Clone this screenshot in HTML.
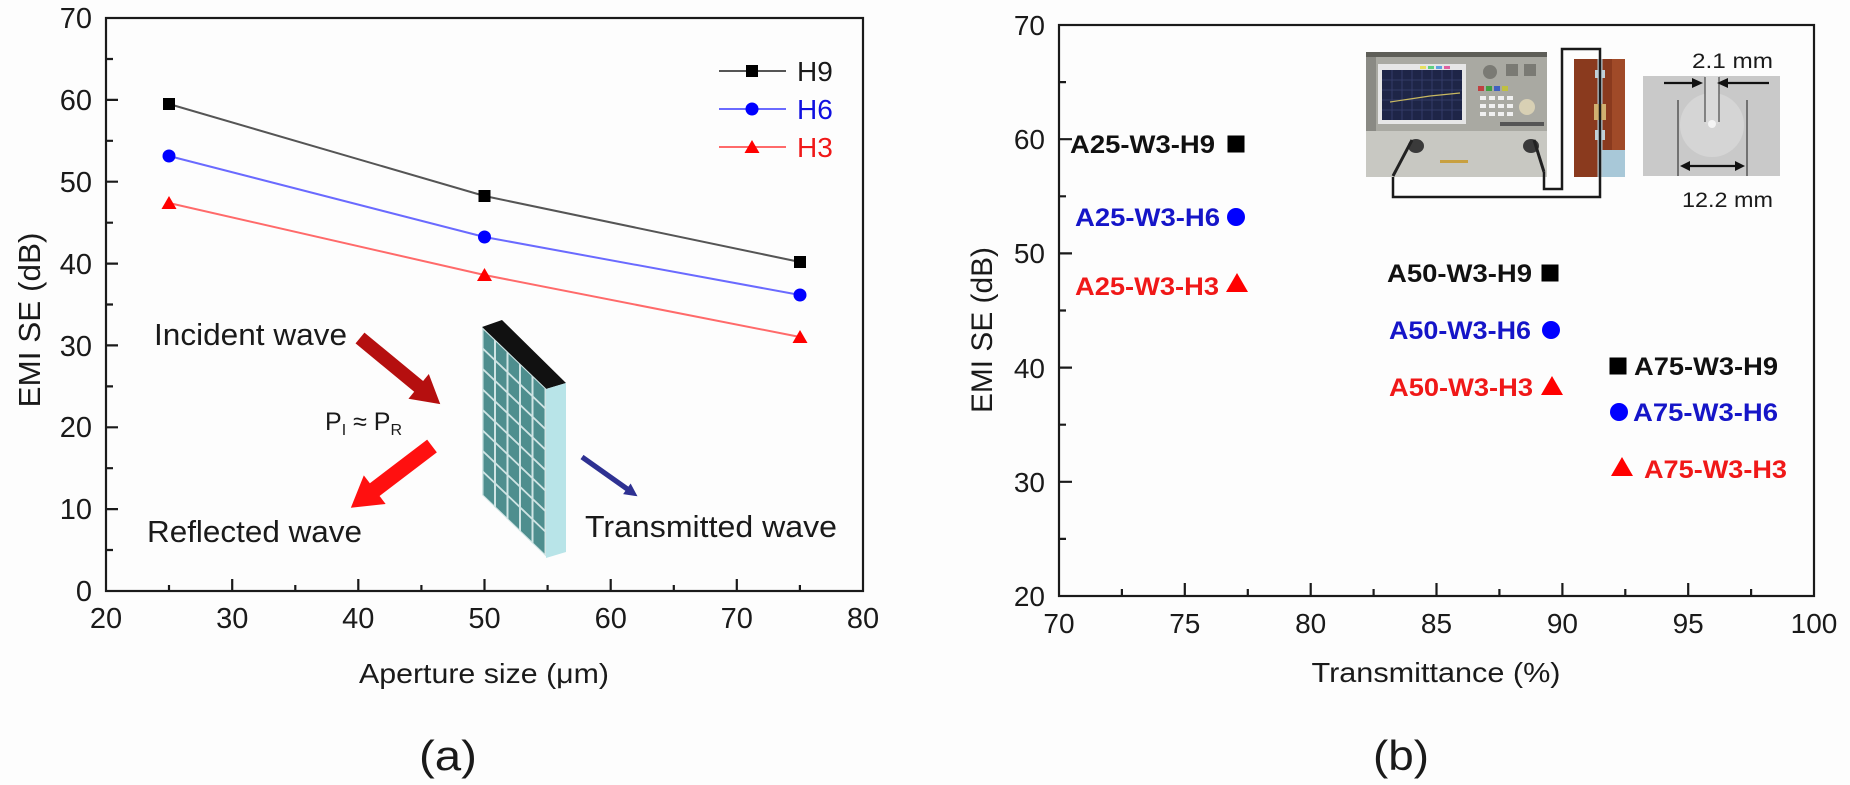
<!DOCTYPE html>
<html>
<head>
<meta charset="utf-8">
<style>
  html,body{margin:0;padding:0;background:#fdfdfd;}
  svg{display:block;}
  text{font-family:"Liberation Sans",Arial,sans-serif;}
</style>
</head>
<body>
<svg width="1850" height="785" viewBox="0 0 1850 785" xmlns="http://www.w3.org/2000/svg">
  <rect x="0" y="0" width="1850" height="785" fill="#fdfdfd"/>

  <!-- ================= LEFT PLOT (a) ================= -->
  <g stroke="#1a1a1a" stroke-width="2.2" fill="none">
    <rect x="106" y="18" width="757" height="573"/>
    <!-- y major ticks -->
    <path d="M106 509.1h12 M106 427.3h12 M106 345.4h12 M106 263.6h12 M106 181.7h12 M106 99.9h12"/>
    <!-- y minor ticks -->
    <path d="M106 550h7 M106 468.2h7 M106 386.4h7 M106 304.5h7 M106 222.7h7 M106 140.8h7 M106 59h7"/>
    <!-- x major ticks -->
    <path d="M232.2 591v-12 M358.3 591v-12 M484.5 591v-12 M610.7 591v-12 M736.8 591v-12"/>
    <!-- x minor ticks -->
    <path d="M169 591v-6 M295.3 591v-6 M421.4 591v-6 M547.6 591v-6 M673.8 591v-6 M799.9 591v-6"/>
  </g>
  <g font-size="29" fill="#1a1a1a" text-anchor="end">
    <text x="92" y="28">70</text>
    <text x="92" y="110">60</text>
    <text x="92" y="192">50</text>
    <text x="92" y="274">40</text>
    <text x="92" y="356">30</text>
    <text x="92" y="437">20</text>
    <text x="92" y="519">10</text>
    <text x="92" y="601">0</text>
  </g>
  <g font-size="29" fill="#1a1a1a" text-anchor="middle">
    <text x="106" y="628">20</text>
    <text x="232.2" y="628">30</text>
    <text x="358.3" y="628">40</text>
    <text x="484.5" y="628">50</text>
    <text x="610.7" y="628">60</text>
    <text x="736.8" y="628">70</text>
    <text x="863" y="628">80</text>
  </g>
  <text x="484" y="683" font-size="28" fill="#1a1a1a" text-anchor="middle" textLength="250" lengthAdjust="spacingAndGlyphs">Aperture size (μm)</text>
  <text transform="translate(40,320) rotate(-90)" font-size="31" fill="#1a1a1a" text-anchor="middle" textLength="175" lengthAdjust="spacingAndGlyphs">EMI SE (dB)</text>
  <text x="448" y="770" font-size="42" fill="#1a1a1a" text-anchor="middle" textLength="58" lengthAdjust="spacingAndGlyphs">(a)</text>

  <!-- series lines -->
  <polyline points="169,104 484.5,196 800,262" fill="none" stroke="#555" stroke-width="2"/>
  <polyline points="169,156 484.5,237 800,295" fill="none" stroke="#6a6aff" stroke-width="2"/>
  <polyline points="169,203 484.5,275 800,337" fill="none" stroke="#ff6a6a" stroke-width="2"/>
  <!-- markers -->
  <g fill="#000">
    <rect x="163" y="98" width="12" height="12"/>
    <rect x="478.5" y="190" width="12" height="12"/>
    <rect x="794" y="256" width="12" height="12"/>
  </g>
  <g fill="#0000ff">
    <circle cx="169" cy="156" r="6.5"/>
    <circle cx="484.5" cy="237" r="6.5"/>
    <circle cx="800" cy="295" r="6.5"/>
  </g>
  <g fill="#ff0000">
    <polygon points="169,196 176.5,209 161.5,209"/>
    <polygon points="484.5,268 492,281 477,281"/>
    <polygon points="800,330 807.5,343 792.5,343"/>
  </g>

  <!-- legend -->
  <line x1="719" y1="71" x2="786" y2="71" stroke="#555" stroke-width="2"/>
  <rect x="746" y="65" width="12" height="12" fill="#000"/>
  <line x1="719" y1="109" x2="786" y2="109" stroke="#6a6aff" stroke-width="2"/>
  <circle cx="752" cy="109" r="6.5" fill="#0000ff"/>
  <line x1="719" y1="147" x2="786" y2="147" stroke="#ff6a6a" stroke-width="2"/>
  <polygon points="752,140 759.5,153 744.5,153" fill="#ff0000"/>
  <text x="797" y="81" font-size="28" fill="#1a1a1a">H9</text>
  <text x="797" y="119" font-size="28" fill="#1010e0">H6</text>
  <text x="797" y="157" font-size="28" fill="#f01818">H3</text>

  <!-- illustration -->
  <text x="154" y="345" font-size="31" fill="#1a1a1a" textLength="193" lengthAdjust="spacingAndGlyphs">Incident wave</text>
  <text x="147" y="542" font-size="31" fill="#1a1a1a" textLength="215" lengthAdjust="spacingAndGlyphs">Reflected wave</text>
  <text x="585" y="537" font-size="31" fill="#1a1a1a" textLength="252" lengthAdjust="spacingAndGlyphs">Transmitted wave</text>
  <text x="325" y="430" font-size="25" fill="#1a1a1a">P<tspan font-size="16" dy="5">I</tspan><tspan dy="-5"> ≈ P</tspan><tspan font-size="16" dy="5">R</tspan></text>

  <!-- incident arrow -->
  <g transform="translate(360,338) rotate(39.5)">
    <polygon points="0,-7 76,-7 76,-16 104,0 76,16 76,7 0,7" fill="#b50f0f"/>
  </g>
  <!-- reflected arrow -->
  <g transform="translate(432,446) rotate(142.7)">
    <polygon points="0,-8 72,-8 72,-18 102,0 72,18 72,8 0,8" fill="#ff1010"/>
  </g>
  <!-- transmitted arrow -->
  <g transform="translate(582,457) rotate(35.3)">
    <polygon points="0,-2.6 55,-2.6 55,-6.5 68,0 55,6.5 55,2.6 0,2.6" fill="#2e3192"/>
  </g>

  <!-- mesh panel -->
  <polygon points="482,327 502,320 566,383 546,389" fill="#111"/>
  <polygon points="546,389 566,383 566,552 546,558" fill="#b8e4e8"/>
  <g transform="matrix(1,0.96,0,1,482,327)">
    <rect x="0" y="0" width="64" height="168" fill="#cfe4e4"/>
    <g fill="#4e8e8e">
      <rect x="1.5" y="1.5" width="10.5" height="18"/><rect x="14" y="1.5" width="10.5" height="18"/><rect x="26.5" y="1.5" width="10.5" height="18"/><rect x="39" y="1.5" width="10.5" height="18"/><rect x="51.5" y="1.5" width="11" height="18"/>
      <rect x="1.5" y="22" width="10.5" height="18"/><rect x="14" y="22" width="10.5" height="18"/><rect x="26.5" y="22" width="10.5" height="18"/><rect x="39" y="22" width="10.5" height="18"/><rect x="51.5" y="22" width="11" height="18"/>
      <rect x="1.5" y="42.5" width="10.5" height="18"/><rect x="14" y="42.5" width="10.5" height="18"/><rect x="26.5" y="42.5" width="10.5" height="18"/><rect x="39" y="42.5" width="10.5" height="18"/><rect x="51.5" y="42.5" width="11" height="18"/>
      <rect x="1.5" y="63" width="10.5" height="18"/><rect x="14" y="63" width="10.5" height="18"/><rect x="26.5" y="63" width="10.5" height="18"/><rect x="39" y="63" width="10.5" height="18"/><rect x="51.5" y="63" width="11" height="18"/>
      <rect x="1.5" y="83.5" width="10.5" height="18"/><rect x="14" y="83.5" width="10.5" height="18"/><rect x="26.5" y="83.5" width="10.5" height="18"/><rect x="39" y="83.5" width="10.5" height="18"/><rect x="51.5" y="83.5" width="11" height="18"/>
      <rect x="1.5" y="104" width="10.5" height="18"/><rect x="14" y="104" width="10.5" height="18"/><rect x="26.5" y="104" width="10.5" height="18"/><rect x="39" y="104" width="10.5" height="18"/><rect x="51.5" y="104" width="11" height="18"/>
      <rect x="1.5" y="124.5" width="10.5" height="18"/><rect x="14" y="124.5" width="10.5" height="18"/><rect x="26.5" y="124.5" width="10.5" height="18"/><rect x="39" y="124.5" width="10.5" height="18"/><rect x="51.5" y="124.5" width="11" height="18"/>
      <rect x="1.5" y="145" width="10.5" height="21.5"/><rect x="14" y="145" width="10.5" height="21.5"/><rect x="26.5" y="145" width="10.5" height="21.5"/><rect x="39" y="145" width="10.5" height="21.5"/><rect x="51.5" y="145" width="11" height="21.5"/>
    </g>
  </g>

  <!-- ================= RIGHT PLOT (b) ================= -->
  <g stroke="#1a1a1a" stroke-width="2.2" fill="none">
    <rect x="1059" y="25" width="755" height="571"/>
    <path d="M1059 481.8h13 M1059 367.6h13 M1059 253.4h13 M1059 139.2h13"/>
    <path d="M1059 538.9h7 M1059 424.7h7 M1059 310.5h7 M1059 196.3h7 M1059 82.1h7"/>
    <path d="M1184.8 596v-13 M1310.7 596v-13 M1436.5 596v-13 M1562.4 596v-13 M1688.2 596v-13"/>
    <path d="M1121.9 596v-7 M1247.8 596v-7 M1373.6 596v-7 M1499.4 596v-7 M1625.3 596v-7 M1751.1 596v-7"/>
  </g>
  <g font-size="28" fill="#1a1a1a" text-anchor="end">
    <text x="1045" y="35">70</text>
    <text x="1045" y="149">60</text>
    <text x="1045" y="263">50</text>
    <text x="1045" y="378">40</text>
    <text x="1045" y="492">30</text>
    <text x="1045" y="606">20</text>
  </g>
  <g font-size="28" fill="#1a1a1a" text-anchor="middle">
    <text x="1059" y="633">70</text>
    <text x="1184.8" y="633">75</text>
    <text x="1310.7" y="633">80</text>
    <text x="1436.5" y="633">85</text>
    <text x="1562.4" y="633">90</text>
    <text x="1688.2" y="633">95</text>
    <text x="1814" y="633">100</text>
  </g>
  <text x="1436" y="682" font-size="28" fill="#1a1a1a" text-anchor="middle" textLength="249" lengthAdjust="spacingAndGlyphs">Transmittance (%)</text>
  <text transform="translate(992,330) rotate(-90)" font-size="30" fill="#1a1a1a" text-anchor="middle" textLength="166" lengthAdjust="spacingAndGlyphs">EMI SE (dB)</text>
  <text x="1401" y="770" font-size="42" fill="#1a1a1a" text-anchor="middle" textLength="56" lengthAdjust="spacingAndGlyphs">(b)</text>

  <!-- markers -->
  <g fill="#000">
    <rect x="1227.5" y="135.5" width="17" height="17"/>
    <rect x="1541.5" y="264.5" width="17" height="17"/>
    <rect x="1609.5" y="357.5" width="17" height="17"/>
  </g>
  <g fill="#0000ff">
    <circle cx="1236" cy="217" r="9"/>
    <circle cx="1551" cy="330" r="9"/>
    <circle cx="1619" cy="412" r="9"/>
  </g>
  <g fill="#ff0000">
    <polygon points="1237,273 1248,292 1226,292"/>
    <polygon points="1552,376 1563,395 1541,395"/>
    <polygon points="1622,457 1633,476 1611,476"/>
  </g>

  <!-- data labels -->
  <g font-size="25" font-weight="bold">
    <text x="1070" y="153" fill="#111" textLength="145" lengthAdjust="spacingAndGlyphs">A25-W3-H9</text>
    <text x="1075" y="226" fill="#1515c8" textLength="145" lengthAdjust="spacingAndGlyphs">A25-W3-H6</text>
    <text x="1075" y="295" fill="#f01818" textLength="144" lengthAdjust="spacingAndGlyphs">A25-W3-H3</text>
    <text x="1387" y="282" fill="#111" textLength="145" lengthAdjust="spacingAndGlyphs">A50-W3-H9</text>
    <text x="1389" y="339" fill="#1515c8" textLength="142" lengthAdjust="spacingAndGlyphs">A50-W3-H6</text>
    <text x="1389" y="396" fill="#f01818" textLength="144" lengthAdjust="spacingAndGlyphs">A50-W3-H3</text>
    <text x="1634" y="375" fill="#111" textLength="144" lengthAdjust="spacingAndGlyphs">A75-W3-H9</text>
    <text x="1633" y="421" fill="#1515c8" textLength="145" lengthAdjust="spacingAndGlyphs">A75-W3-H6</text>
    <text x="1644" y="478" fill="#f01818" textLength="143" lengthAdjust="spacingAndGlyphs">A75-W3-H3</text>
  </g>

  <!-- inset: instrument -->
  <rect x="1366" y="52" width="181" height="125" fill="#a9a9a2"/>
  <rect x="1366" y="52" width="181" height="5" fill="#5e5e58"/>
  <rect x="1366" y="57" width="10" height="76" fill="#8a8a84"/>
  <rect x="1378" y="64" width="88" height="60" fill="#e6e6e6"/>
  <rect x="1382" y="70" width="80" height="50" fill="#1e2547"/>
  <g stroke="#3a4270" stroke-width="0.8">
    <path d="M1392 70v50 M1402 70v50 M1412 70v50 M1422 70v50 M1432 70v50 M1442 70v50 M1452 70v50 M1382 80h80 M1382 90h80 M1382 100h80 M1382 110h80"/>
  </g>
  <path d="M1390 102 L1410 99 L1430 96 L1460 93" stroke="#c8b860" stroke-width="1.2" fill="none"/>
  <rect x="1420" y="66" width="6" height="3" fill="#e8e060"/><rect x="1428" y="66" width="6" height="3" fill="#60d080"/><rect x="1436" y="66" width="6" height="3" fill="#60a0e0"/><rect x="1444" y="66" width="6" height="3" fill="#e060a0"/>
  <circle cx="1490" cy="72" r="7" fill="#7a7a74"/>
  <rect x="1506" y="64" width="12" height="12" fill="#7a7a74"/><rect x="1524" y="64" width="12" height="12" fill="#7a7a74"/>
  <rect x="1478" y="86" width="6" height="5" fill="#c04040"/><rect x="1486" y="86" width="6" height="5" fill="#40a040"/><rect x="1494" y="86" width="6" height="5" fill="#4060c0"/><rect x="1502" y="86" width="6" height="5" fill="#c0c040"/>
  <g fill="#f0f0f0">
    <rect x="1480" y="96" width="6" height="4"/><rect x="1489" y="96" width="6" height="4"/><rect x="1498" y="96" width="6" height="4"/><rect x="1507" y="96" width="6" height="4"/>
    <rect x="1480" y="104" width="6" height="4"/><rect x="1489" y="104" width="6" height="4"/><rect x="1498" y="104" width="6" height="4"/><rect x="1507" y="104" width="6" height="4"/>
    <rect x="1480" y="112" width="6" height="4"/><rect x="1489" y="112" width="6" height="4"/><rect x="1498" y="112" width="6" height="4"/><rect x="1507" y="112" width="6" height="4"/>
  </g>
  <circle cx="1527" cy="107" r="8" fill="#d8d0b4"/>
  <rect x="1500" y="122" width="44" height="4" fill="#555"/>
  <rect x="1366" y="131" width="181" height="46" fill="#c8c8c2"/>
  <rect x="1440" y="160" width="28" height="3" fill="#c8a040"/>
  <ellipse cx="1416" cy="146" rx="8" ry="7" fill="#3a3a3a"/>
  <ellipse cx="1531" cy="146" rx="8" ry="7" fill="#3a3a3a"/>
  <path d="M1412 140 L1393 176 M1534 140 L1544 172" stroke="#222" stroke-width="3"/>
  <!-- wood / fixture -->
  <rect x="1574" y="59" width="51" height="118" fill="#8a3a1e"/>
  <rect x="1612" y="59" width="13" height="118" fill="#a04a28"/>
  <rect x="1600" y="150" width="25" height="27" fill="#a8c8d8"/>
  <line x1="1600" y1="59" x2="1600" y2="177" stroke="#b8c8d0" stroke-width="5"/>
  <rect x="1594" y="104" width="12" height="16" fill="#d0b070"/>
  <rect x="1595" y="70" width="10" height="8" fill="#c0d0d8"/>
  <rect x="1595" y="130" width="10" height="10" fill="#c0d0d8"/>
  <!-- cable -->
  <path d="M1393 177 V197 H1600 V49 H1562 V189 H1544 V172" fill="none" stroke="#1a1a1a" stroke-width="2.5"/>
  <!-- sample -->
  <rect x="1643" y="76" width="137" height="100" fill="#c9c9c9"/>
  <circle cx="1712" cy="125" r="32" fill="#d5d5d5"/>
  <rect x="1705" y="76" width="14" height="48" fill="#d9d9d9"/>
  <path d="M1705 77 V122 M1719 77 V122" stroke="#555" stroke-width="1.3"/>
  <circle cx="1712" cy="124" r="4" fill="#f4f4f4"/>
  <path d="M1678 100 V176 M1747 100 V176" stroke="#555" stroke-width="1.5"/>
  <g stroke="#111" stroke-width="2.2" fill="#111">
    <line x1="1688" y1="166" x2="1737" y2="166"/>
    <polygon points="1680,166 1690,161 1690,171" stroke="none"/>
    <polygon points="1745,166 1735,161 1735,171" stroke="none"/>
    <line x1="1664" y1="83" x2="1694" y2="83"/>
    <polygon points="1703,83 1692,78 1692,88" stroke="none"/>
    <line x1="1769" y1="83" x2="1726" y2="83"/>
    <polygon points="1717,83 1728,78 1728,88" stroke="none"/>
  </g>
  <text x="1692" y="68" font-size="21" fill="#1a1a1a" textLength="81" lengthAdjust="spacingAndGlyphs">2.1 mm</text>
  <text x="1682" y="207" font-size="21" fill="#1a1a1a" textLength="91" lengthAdjust="spacingAndGlyphs">12.2 mm</text>
</svg>
</body>
</html>
